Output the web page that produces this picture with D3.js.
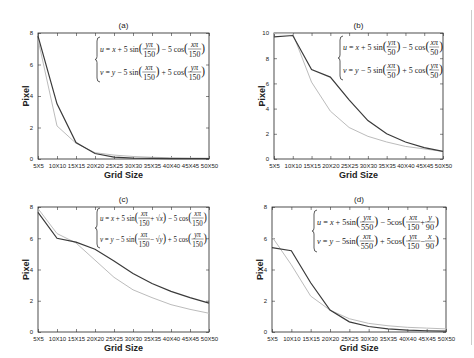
<!DOCTYPE html>
<html>
<head>
<meta charset="utf-8">
<script src="https://cdn.jsdelivr.net/npm/d3@7"></script>
<style>
  body { margin: 0; background: #fff; }
  svg { display: block; }
</style>
</head>
<body>
<div id="chart"></div>
<script>
// grid sizes along the x axis
const gridSizes = ['5X5', '10X10', '15X15', '20X20', '25X25', '30X30', '35X35', '40X40', '45X45', '50X50'];

// (a)
const aDark  = [7.8, 3.5, 1.05, 0.35, 0.12, 0.06, 0.04, 0.03, 0.02, 0.02];
const aLight = [7.6, 2.1, 1.0, 0.4, 0.25, 0.16, 0.11, 0.08, 0.06, 0.05];
// (b)
const bDark  = [9.7, 9.8, 7.1, 6.5, 4.7, 3.05, 2.0, 1.35, 0.9, 0.6];
const bLight = [9.95, 9.95, 6.1, 3.8, 2.5, 1.8, 1.35, 1.0, 0.8, 0.6];
// (c)
const cDark  = [7.65, 6.0, 5.75, 5.3, 4.55, 3.75, 3.1, 2.6, 2.2, 1.85];
const cLight = [7.9, 6.3, 5.7, 4.6, 3.5, 2.7, 2.2, 1.75, 1.45, 1.2];
// (d)
const dDark  = [5.4, 5.2, 3.15, 1.4, 0.65, 0.35, 0.2, 0.12, 0.08, 0.06];
const dLight = [6.1, 4.3, 2.3, 1.4, 0.85, 0.55, 0.4, 0.3, 0.25, 0.2];

const yTicksA = [0, 2, 4, 6, 8];
const yTicksB = [0, 2, 4, 6, 8, 10];

const W = 474, H = 358;
const svg = d3.select('#chart').append('svg')
    .attr('width', W).attr('height', H);

const panels = [
    {title: '(a)', dark: aDark, light: aLight, ymax: 8, ticks: yTicksA,
     left: 38, right: 209, top: 33, bottom: 159,
     eq: {x: 97, y1: 37, y2: 82, l1: 49, l2: 72, type: 'a', den: '150', w: 105}},
    {title: '(b)', dark: bDark, light: bLight, ymax: 10, ticks: yTicksB,
     left: 274, right: 443, top: 33, bottom: 159,
     eq: {x: 340, y1: 36, y2: 80, l1: 47, l2: 70, type: 'a', den: '50', w: 100}},
    {title: '(c)', dark: cDark, light: cLight, ymax: 8, ticks: yTicksA,
     left: 38, right: 209, top: 207, bottom: 332,
     eq: {x: 97, y1: 208, y2: 248, l1: 218, l2: 239, type: 'c', w: 107}},
    {title: '(d)', dark: dDark, light: dLight, ymax: 8, ticks: yTicksA,
     left: 272, right: 446, top: 207, bottom: 332,
     eq: {x: 314, y1: 210, y2: 252, l1: 222, l2: 241, type: 'd', w: 122}}
];

function plainText(g, x, y, str, fs) {
    const t = g.append('text')
        .attr('x', x).attr('y', y)
        .attr('fill', '#222')
        .style('font-family', '"Liberation Serif", serif')
        .style('font-size', fs + 'px');
    str.split(/([uvxyπ()])/).forEach(s => {
        if (!s) return;
        const ts = t.append('tspan')
            .style('font-style', /[uvxyπ]/.test(s) ? 'italic' : 'normal')
            .text(s);
        if (s === '(' || s === ')') ts.style('font-size', (fs * 1.45) + 'px');
    });
    return t.node().getComputedTextLength();
}

function drawEq(g, x0, ya, parts, fs) {
    let x = x0;
    parts.forEach(p => {
        if (typeof p === 'string') {
            x += plainText(g, x, ya + fs * 0.36, p, fs);
        } else {
            const gn = g.append('g');
            const wn = plainText(gn, 0, ya - 1.5, p[0], fs);
            const gd = g.append('g');
            const wd = plainText(gd, 0, ya + fs * 0.85, p[1], fs);
            const w = Math.max(wn, wd) + 2;
            gn.attr('transform', `translate(${x + (w - wn) / 2},0)`);
            gd.attr('transform', `translate(${x + (w - wd) / 2},0)`);
            g.append('line')
                .attr('x1', x).attr('x2', x + w)
                .attr('y1', ya).attr('y2', ya)
                .attr('stroke', '#222').attr('stroke-width', 0.5);
            x += w;
        }
    });
    return x - x0;
}

function brace(g, x, y1, y2) {
    const ym = (y1 + y2) / 2;
    g.append('path')
        .attr('d', `M${x + 3},${y1} Q${x},${y1} ${x},${y1 + 4} L${x},${ym - 3} Q${x},${ym} ${x - 2},${ym} Q${x},${ym} ${x},${ym + 3} L${x},${y2 - 4} Q${x},${y2} ${x + 3},${y2}`)
        .attr('fill', 'none').attr('stroke', '#333').attr('stroke-width', 0.8);
}

function equations(g, e) {
    const fs = 9;
    brace(g, e.x, e.y1, e.y2);
    const x0 = e.x + 3;
    let l1, l2;
    if (e.type === 'a') {
        l1 = ['u = x + 5 sin(', ['yπ', e.den], ') − 5 cos(', ['xπ', e.den], ')'];
        l2 = ['v = y − 5 sin(', ['xπ', e.den], ') + 5 cos(', ['yπ', e.den], ')'];
    } else if (e.type === 'c') {
        l1 = ['u = x + 5 sin(', ['xπ', '150'], ' + √x) − 5 cos(', ['xπ', '150'], ')'];
        l2 = ['v = y − 5 sin(', ['xπ', '150'], ' − √y) + 5 cos(', ['yπ', '150'], ')'];
    } else {
        l1 = ['u = x + 5sin(', ['yπ', '550'], ') − 5cos(', ['xπ', '150'], ' + ', ['y', '90'], ')'];
        l2 = ['v = y − 5sin(', ['xπ', '550'], ') + 5cos(', ['yπ', '150'], ' − ', ['x', '90'], ')'];
    }
    // stretch each line horizontally to the width seen in the figure
    [[l1, e.l1], [l2, e.l2]].forEach(([parts, ya]) => {
        const lg = g.append('g');
        const w = drawEq(lg, 0, ya, parts, fs);
        const k = e.w / w;
        lg.attr('transform', `translate(${x0},0) scale(${k},1)`);
    });
}

panels.forEach(p => {
    const g = svg.append('g');
    const x = d3.scalePoint().domain(gridSizes).range([p.left, p.right]);
    const y = d3.scaleLinear().domain([0, p.ymax]).range([p.bottom, p.top]);

    // frame
    g.append('rect')
        .attr('x', p.left).attr('y', p.top)
        .attr('width', p.right - p.left).attr('height', p.bottom - p.top)
        .attr('fill', 'none').attr('stroke', '#222').attr('stroke-width', 0.8);

    // axes with inward ticks on all four sides
    const axB = g.append('g').attr('transform', `translate(0,${p.bottom})`)
        .call(d3.axisBottom(x).tickSizeInner(-3).tickSizeOuter(0).tickPadding(5));
    const axT = g.append('g').attr('transform', `translate(0,${p.top})`)
        .call(d3.axisTop(x).tickSizeInner(-3).tickSizeOuter(0).tickFormat(''));
    const axL = g.append('g').attr('transform', `translate(${p.left},0)`)
        .call(d3.axisLeft(y).tickValues(p.ticks).tickSizeInner(-3).tickSizeOuter(0).tickPadding(5));
    const axR = g.append('g').attr('transform', `translate(${p.right},0)`)
        .call(d3.axisRight(y).tickValues(p.ticks).tickSizeInner(-3).tickSizeOuter(0).tickFormat(''));
    [axB, axT, axL, axR].forEach(a => {
        a.select('.domain').remove();
        a.selectAll('line').attr('stroke', '#333').attr('stroke-width', 0.6);
        a.selectAll('text')
            .style('font-family', '"Liberation Sans", Arial, sans-serif')
            .style('font-size', '6px').attr('fill', '#222');
    });

    const line = d3.line()
        .x((d, i) => x(gridSizes[i]))
        .y(d => y(d));
    g.append('path').datum(p.light)
        .attr('d', line).attr('fill', 'none')
        .attr('stroke', '#bcbcbc').attr('stroke-width', 1);
    g.append('path').datum(p.dark)
        .attr('d', line).attr('fill', 'none')
        .attr('stroke', '#3a3a3a').attr('stroke-width', 1.2);

    const cx = (p.left + p.right) / 2;
    g.append('text')
        .attr('x', cx).attr('y', p.top - 5)
        .attr('text-anchor', 'middle')
        .style('font-family', '"Liberation Sans", Arial, sans-serif')
        .style('font-size', '8px').attr('fill', '#222')
        .text(p.title);

    g.append('text')
        .attr('x', cx).attr('y', p.bottom + 19)
        .attr('text-anchor', 'middle')
        .style('font-family', '"Liberation Sans", Arial, sans-serif')
        .style('font-size', '9px').style('font-weight', 'bold').attr('fill', '#222')
        .text('Grid Size');

    g.append('text')
        .attr('transform', `translate(${p.left - 9},${(p.top + p.bottom) / 2}) rotate(-90)`)
        .attr('text-anchor', 'middle')
        .style('font-family', '"Liberation Sans", Arial, sans-serif')
        .style('font-size', '9px').style('font-weight', 'bold').attr('fill', '#222')
        .text('Pixel');

    equations(g, p.eq);
});

// thin scan edge on the right
svg.append('line')
    .attr('x1', 471.5).attr('x2', 471.5).attr('y1', 10).attr('y2', 345)
    .attr('stroke', '#ccc').attr('stroke-width', 1);
</script>
</body>
</html>
